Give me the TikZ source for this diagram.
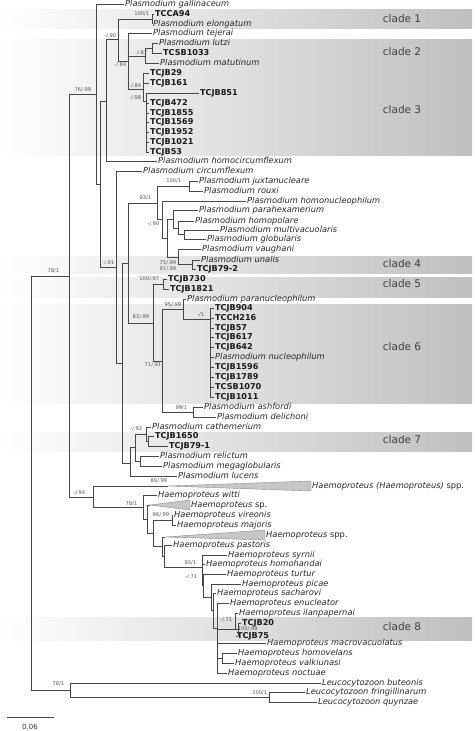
\documentclass[tikz,border=0pt]{standalone}
\usepackage{fontspec}
\newfontfamily\dv{DejaVu Sans}
\newcommand\vt[3]{\draw[br] (#1 |- #2) -- (#1 |- #3);}
\newcommand\br[2]{\draw[br] (#1 |- #2) -- (#2);}
\begin{document}
\begin{tikzpicture}[x=1pt,y=-1pt,
 br/.style={draw=black!72,line width=0.75pt},
 sp/.style={anchor=west,inner sep=1pt,text height=6pt,text depth=1.8pt,font=\dv\itshape\fontsize{8.3}{9}\selectfont,text=black!85},
 tc/.style={anchor=west,inner sep=1pt,text height=6pt,text depth=1.8pt,font=\dv\bfseries\fontsize{8.1}{9}\selectfont,text=black!90},
 supp/.style={anchor=east,inner sep=0.5pt,font=\dv\fontsize{5.2}{6}\selectfont,text=black!65},
 cl/.style={font=\dv\fontsize{10.5}{12}\selectfont,text=black!75},
 band/.style={left color=white,right color=black!25},
 tri/.style={fill=black!22,draw=black!45,line width=0.4pt}]
\useasboundingbox (0,0) rectangle (474,731);
% clade bands
\shade[band] (0,9) rectangle (472,28);
\shade[band] (0,39) rectangle (472,66);
\shade[band] (0,67) rectangle (472,155);
\shade[band] (0,256) rectangle (472,273);
\shade[band] (0,277) rectangle (472,297);
\shade[band] (0,304) rectangle (472,403);
\shade[band] (0,432) rectangle (472,451);
\shade[band] (0,617) rectangle (472,640);
\node[cl] (cl1) at (402,19) {clade 1};
\node[cl] (cl2) at (402,52) {clade 2};
\node[cl] (cl3) at (402,110) {clade 3};
\node[cl] (cl4) at (402,264) {clade 4};
\node[cl] (cl5) at (402,284) {clade 5};
\node[cl] (cl6) at (402,347) {clade 6};
\node[cl] (cl7) at (402,440) {clade 7};
\node[cl] (cl8) at (402,627) {clade 8};
% leaves
\node[sp] (gal) at (124,4.5) {Plasmodium gallinaceum};
\node[tc] (tcca) at (154,14) {TCCA94};
\node[sp] (elong) at (152,24) {Plasmodium elongatum};
\node[sp] (tej) at (152,33) {Plasmodium tejerai};
\node[sp] (lutzi) at (158,43) {Plasmodium lutzi};
\node[tc] (tcsb1033) at (162,53) {TCSB1033};
\node[sp] (matut) at (159,63) {Plasmodium matutinum};
\node[tc] (t29) at (149,73) {TCJB29};
\node[tc] (t161) at (149,83) {TCJB161};
\node[tc] (t851) at (199,93) {TCJB851};
\node[tc] (t472) at (149,103) {TCJB472};
\node[tc] (t1855) at (149,113) {TCJB1855};
\node[tc] (t1569) at (149,122) {TCJB1569};
\node[tc] (t1952) at (149,132) {TCJB1952};
\node[tc] (t1021) at (149,142) {TCJB1021};
\node[tc] (t53) at (149,152) {TCJB53};
\node[sp] (homocirc) at (157,161) {Plasmodium homocircumflexum};
\node[sp] (circ) at (142,171) {Plasmodium circumflexum};
\node[sp] (juxta) at (198,181) {Plasmodium juxtanucleare};
\node[sp] (rouxi) at (203,191) {Plasmodium rouxi};
\node[sp] (homonuc) at (246,201) {Plasmodium homonucleophilum};
\node[sp] (parahex) at (198,210) {Plasmodium parahexamerium};
\node[sp] (homopol) at (194,221) {Plasmodium homopolare};
\node[sp] (multivac) at (219,230) {Plasmodium multivacuolaris};
\node[sp] (globul) at (206,239) {Plasmodium globularis};
\node[sp] (vaughani) at (201,249) {Plasmodium vaughani};
\node[sp] (unalis) at (200,260) {Plasmodium unalis};
\node[tc] (t792) at (196,269) {TCJB79-2};
\node[tc] (t730) at (167,279) {TCJB730};
\node[tc] (t1821) at (169,289) {TCJB1821};
\node[sp] (paranuc) at (186,299) {Plasmodium paranucleophilum};
\node[tc] (c6a) at (214,308) {TCJB904};
\node[tc] (c6b) at (214,318) {TCCH216};
\node[tc] (c6c) at (214,328) {TCJB57};
\node[tc] (c6d) at (214,337) {TCJB617};
\node[tc] (c6e) at (214,347) {TCJB642};
\node[sp] (c6f) at (214,357) {Plasmodium nucleophilum};
\node[tc] (c6g) at (214,367) {TCJB1596};
\node[tc] (c6h) at (214,377) {TCJB1789};
\node[tc] (c6i) at (214,387) {TCSB1070};
\node[tc] (c6j) at (214,397) {TCJB1011};
\node[sp] (ashf) at (203,407) {Plasmodium ashfordi};
\node[sp] (delich) at (216,417) {Plasmodium delichoni};
\node[sp] (cathem) at (151,427) {Plasmodium cathemerium};
\node[tc] (t1650) at (154,436) {TCJB1650};
\node[tc] (t791) at (168,446) {TCJB79-1};
\node[sp] (relict) at (159,456) {Plasmodium relictum};
\node[sp] (megag) at (162,466) {Plasmodium megaglobularis};
\node[sp] (lucens) at (177,476) {Plasmodium lucens};
\node[sp] (HH) at (311,486) {Haemoproteus (Haemoproteus) \normalfont\dv spp.};
\node[sp] (witti) at (157,495) {Haemoproteus witti};
\node[sp] (Hsp) at (190,505) {Haemoproteus \normalfont\dv sp.};
\node[sp] (vireo) at (173,515) {Haemoproteus vireonis};
\node[sp] (majoris) at (176,525) {Haemoproteus majoris};
\node[sp] (Hspp) at (265,535) {Haemoproteus \normalfont\dv spp.};
\node[sp] (pastoris) at (172,545) {Haemoproteus pastoris};
\node[sp] (syrnii) at (227,555) {Haemoproteus syrnii};
\node[sp] (homohan) at (205,564) {Haemoproteus homohandai};
\node[sp] (turtur) at (226,574) {Haemoproteus turtur};
\node[sp] (picae) at (241,584) {Haemoproteus picae};
\node[sp] (sachar) at (216,593) {Haemoproteus sacharovi};
\node[sp] (enuc) at (229,603) {Haemoproteus enucleator};
\node[sp] (ilan) at (238,613) {Haemoproteus ilanpapernai};
\node[tc] (t20) at (241,623) {TCJB20};
\node[tc] (t75) at (236,636) {TCJB75};
\node[sp] (macro) at (266,643) {Haemoproteus macrovacuolatus};
\node[sp] (homovel) at (237,653) {Haemoproteus homovelans};
\node[sp] (valk) at (234,663) {Haemoproteus valkiunasi};
\node[sp] (noct) at (227,673) {Haemoproteus noctuae};
\node[sp] (buteo) at (321,683) {Leucocytozoon buteonis};
\node[sp] (fring) at (305,692) {Leucocytozoon fringillinarum};
\node[sp] (quyn) at (317,702) {Leucocytozoon quynzae};
% internal nodes
\coordinate (r) at (31,483);
\coordinate (n69) at (69,276);
\coordinate (n96) at (96,94);
\coordinate (n100) at (100,184);
\coordinate (n106) at (106,101);
\coordinate (n118) at (118,39);
\coordinate (n152) at (152,19);
\coordinate (n128) at (128,61);
\coordinate (n145) at (145,56);
\coordinate (n152b) at (152,48);
\coordinate (n143) at (143,89);
\coordinate (n146) at (146,101);
\coordinate (n116) at (116,267);
\coordinate (n122) at (122,363);
\coordinate (n128b) at (128,263);
\coordinate (n157) at (157,203);
\coordinate (n189) at (189,186);
\coordinate (n162) at (162,219.5);
\coordinate (n167) at (167,238);
\coordinate (n173) at (173,219);
\coordinate (n178a) at (178,228);
\coordinate (n184) at (184,234.5);
\coordinate (n178) at (178,257);
\coordinate (n192) at (192,264.5);
\coordinate (n153) at (153,323);
\coordinate (n163) at (163,284);
\coordinate (n162b) at (162,361);
\coordinate (n183) at (183,309);
\coordinate (n210) at (210,319);
\coordinate (n193) at (193,412);
\coordinate (n130) at (130,463);
\coordinate (n135) at (135,447.5);
\coordinate (n146c) at (146,434);
\coordinate (n148) at (148,441);
\coordinate (n140) at (140,461);
\coordinate (nH) at (93,497);
\coordinate (aHH) at (168,486);
\coordinate (n143h) at (143,507);
\coordinate (n147) at (147,519);
\coordinate (aHsp) at (150,505);
\coordinate (n153h) at (153,533);
\coordinate (n172) at (172,520);
\coordinate (n162h) at (162,546);
\coordinate (aHspp) at (165,537);
\coordinate (n164) at (164,556);
\coordinate (n202) at (202,567);
\coordinate (n203) at (203,585);
\coordinate (n211) at (211,597);
\coordinate (n213) at (213,610);
\coordinate (n217) at (217,628);
\coordinate (n235) at (235,629.5);
\coordinate (n238) at (238,629.5);
\coordinate (n222) at (222,658);
\coordinate (nL) at (70,690);
\coordinate (n269) at (269,697);
% triangles
\filldraw[tri] (aHH) -- ([yshift=5pt]HH.west) -- ([yshift=-5pt]HH.west) -- cycle;
\filldraw[tri] (aHsp) -- ([yshift=5pt]Hsp.west) -- ([yshift=-5pt]Hsp.west) -- cycle;
\filldraw[tri] (aHspp) -- ([yshift=5pt]Hspp.west) -- ([yshift=-5pt]Hspp.west) -- cycle;
% connectors
\vt{r}{n69}{nL} \br{r}{n69} \br{r}{nL}
\vt{n69}{n96}{nH} \br{n69}{n96} \br{n69}{nH}
\vt{n96}{gal}{n100} \br{n96}{gal} \br{n96}{n100}
\vt{n100}{n106}{n116} \br{n100}{n106} \br{n100}{n116}
\vt{n106}{n118}{homocirc} \br{n106}{n118} \br{n106}{homocirc}
\vt{n118}{n152}{n128} \br{n118}{n152} \br{n118}{n128}
\vt{n152}{tcca}{elong} \br{n152}{tcca} \br{n152}{elong}
\vt{n128}{tej}{n143} \br{n128}{tej} \br{n128}{n145} \br{n128}{n143}
\vt{n145}{n152b}{matut} \br{n145}{n152b} \br{n145}{matut}
\vt{n152b}{lutzi}{tcsb1033} \br{n152b}{lutzi} \br{n152b}{tcsb1033}
\vt{n143}{t29}{n146} \br{n143}{t29} \br{n143}{t161} \br{n143}{n146}
\vt{n146}{t851}{t53}
\foreach \c in {t851,t472,t1855,t1569,t1952,t1021,t53} {\br{n146}{\c}}
\vt{n116}{circ}{n122} \br{n116}{circ} \br{n116}{n122}
\vt{n122}{n128b}{n130} \br{n122}{n128b} \br{n122}{n130}
\vt{n128b}{n157}{n153} \br{n128b}{n157} \br{n128b}{n153}
\vt{n157}{n189}{n162} \br{n157}{n189} \br{n157}{n162}
\vt{n189}{juxta}{rouxi} \br{n189}{juxta} \br{n189}{rouxi}
\vt{n162}{homonuc}{n167} \br{n162}{homonuc} \br{n162}{n167}
\vt{n167}{n173}{n178} \br{n167}{n173} \br{n167}{n178}
\vt{n173}{parahex}{n178a} \br{n173}{parahex} \br{n173}{n178a}
\vt{n178a}{homopol}{n184} \br{n178a}{homopol} \br{n178a}{n184}
\vt{n184}{multivac}{globul} \br{n184}{multivac} \br{n184}{globul}
\vt{n178}{vaughani}{n192} \br{n178}{vaughani} \br{n178}{n192}
\vt{n192}{unalis}{t792} \br{n192}{unalis} \br{n192}{t792}
\vt{n153}{n163}{n162b} \br{n153}{n163} \br{n153}{n162b}
\vt{n163}{t730}{t1821} \br{n163}{t730} \br{n163}{t1821}
\vt{n162b}{n183}{n193} \br{n162b}{n183} \br{n162b}{n193}
\vt{n183}{paranuc}{n210} \br{n183}{paranuc} \br{n183}{n210}
\vt{n210}{c6a}{c6j}
\foreach \c in {c6a,c6b,c6c,c6d,c6e,c6f,c6g,c6h,c6i,c6j} {\br{n210}{\c}}
\vt{n193}{ashf}{delich} \br{n193}{ashf} \br{n193}{delich}
\vt{n130}{n135}{lucens} \br{n130}{n135} \br{n130}{lucens}
\vt{n135}{n146c}{n140} \br{n135}{n146c} \br{n135}{n140}
\vt{n146c}{cathem}{n148} \br{n146c}{cathem} \br{n146c}{n148}
\vt{n148}{t1650}{t791} \br{n148}{t1650} \br{n148}{t791}
\vt{n140}{relict}{megag} \br{n140}{relict} \br{n140}{megag}
\vt{nH}{aHH}{n143h} \br{nH}{aHH} \br{nH}{n143h}
\vt{n143h}{witti}{n147} \br{n143h}{witti} \br{n143h}{n147}
\vt{n147}{aHsp}{n153h} \br{n147}{aHsp} \br{n147}{n153h}
\vt{n153h}{n172}{n162h} \br{n153h}{n172} \br{n153h}{n162h}
\vt{n172}{vireo}{majoris} \br{n172}{vireo} \br{n172}{majoris}
\vt{n162h}{aHspp}{n164} \br{n162h}{aHspp} \br{n162h}{n164}
\vt{n164}{pastoris}{n202} \br{n164}{pastoris} \br{n164}{n202}
\vt{n202}{syrnii}{n203} \br{n202}{syrnii} \br{n202}{homohan} \br{n202}{n203}
\vt{n203}{turtur}{n211} \br{n203}{turtur} \br{n203}{n211}
\vt{n211}{picae}{n213} \br{n211}{picae} \br{n211}{n213}
\vt{n213}{sachar}{n217} \br{n213}{sachar} \br{n213}{n217}
\vt{n217}{enuc}{noct} \br{n217}{enuc} \br{n217}{n235} \br{n217}{macro} \br{n217}{n222} \br{n217}{noct}
\vt{n235}{ilan}{n238} \br{n235}{ilan} \br{n235}{n238}
\vt{n238}{t20}{t75} \br{n238}{t20} \br{n238}{t75}
\vt{n222}{homovel}{valk} \br{n222}{homovel} \br{n222}{valk}
\vt{nL}{buteo}{n269} \br{nL}{buteo} \br{nL}{n269}
\vt{n269}{fring}{quyn} \br{n269}{fring} \br{n269}{quyn}
% support values
\node[supp] (s1) at (150,14) {100/1};
\node[supp] (s2) at (117,36) {-/.90};
\node[supp] (s3) at (127,65) {-/.84};
\node[supp] (s4) at (148,53) {-/.87};
\node[supp] (s5) at (142,86) {-/.84};
\node[supp] (s6) at (142,98) {-/.98};
\node[supp] (s7) at (92,90) {76/.99};
\node[supp] (s8) at (182,181) {100/1};
\node[supp] (s9) at (152,198) {93/1};
\node[supp] (s10) at (160,224) {-/.90};
\node[supp] (s11) at (177,263) {75/.99};
\node[supp] (s12) at (177,269) {91/.99};
\node[supp] (s13) at (115,263) {-/.91};
\node[supp] (s14) at (160,279) {100/.97};
\node[supp] (s15) at (60,271) {78/1};
\node[supp] (s16) at (182,305) {95/.99};
\node[supp] (s17) at (205,315) {-/1};
\node[supp] (s18) at (150,317) {83/.99};
\node[supp] (s19) at (162,365) {71/.91};
\node[supp] (s20) at (188,408) {99/1};
\node[supp] (s21) at (143,429) {-/.92};
\node[supp] (s22) at (168,481) {89/.99};
\node[supp] (s23) at (86,493) {-/.94};
\node[supp] (s24) at (138,504) {78/1};
\node[supp] (s25) at (170,515) {96/.99};
\node[supp] (s26) at (197,563) {92/1};
\node[supp] (s27) at (198,577) {-/.71};
\node[supp] (s28) at (233,620) {-/.71};
\node[supp,anchor=west] (s29) at (237,629) {100/.99};
\node[supp] (s30) at (65,684) {78/1};
\node[supp] (s31) at (268,693) {100/1};
% scale bar
\coordinate (sb1) at (7,717);
\coordinate (sb2) at (54,717);
\draw[br] (sb1) -- (sb2);
\node[font=\dv\fontsize{7}{8}\selectfont,text=black!80] (sbl) at (30,727) {0.06};
\end{tikzpicture}
\end{document}
